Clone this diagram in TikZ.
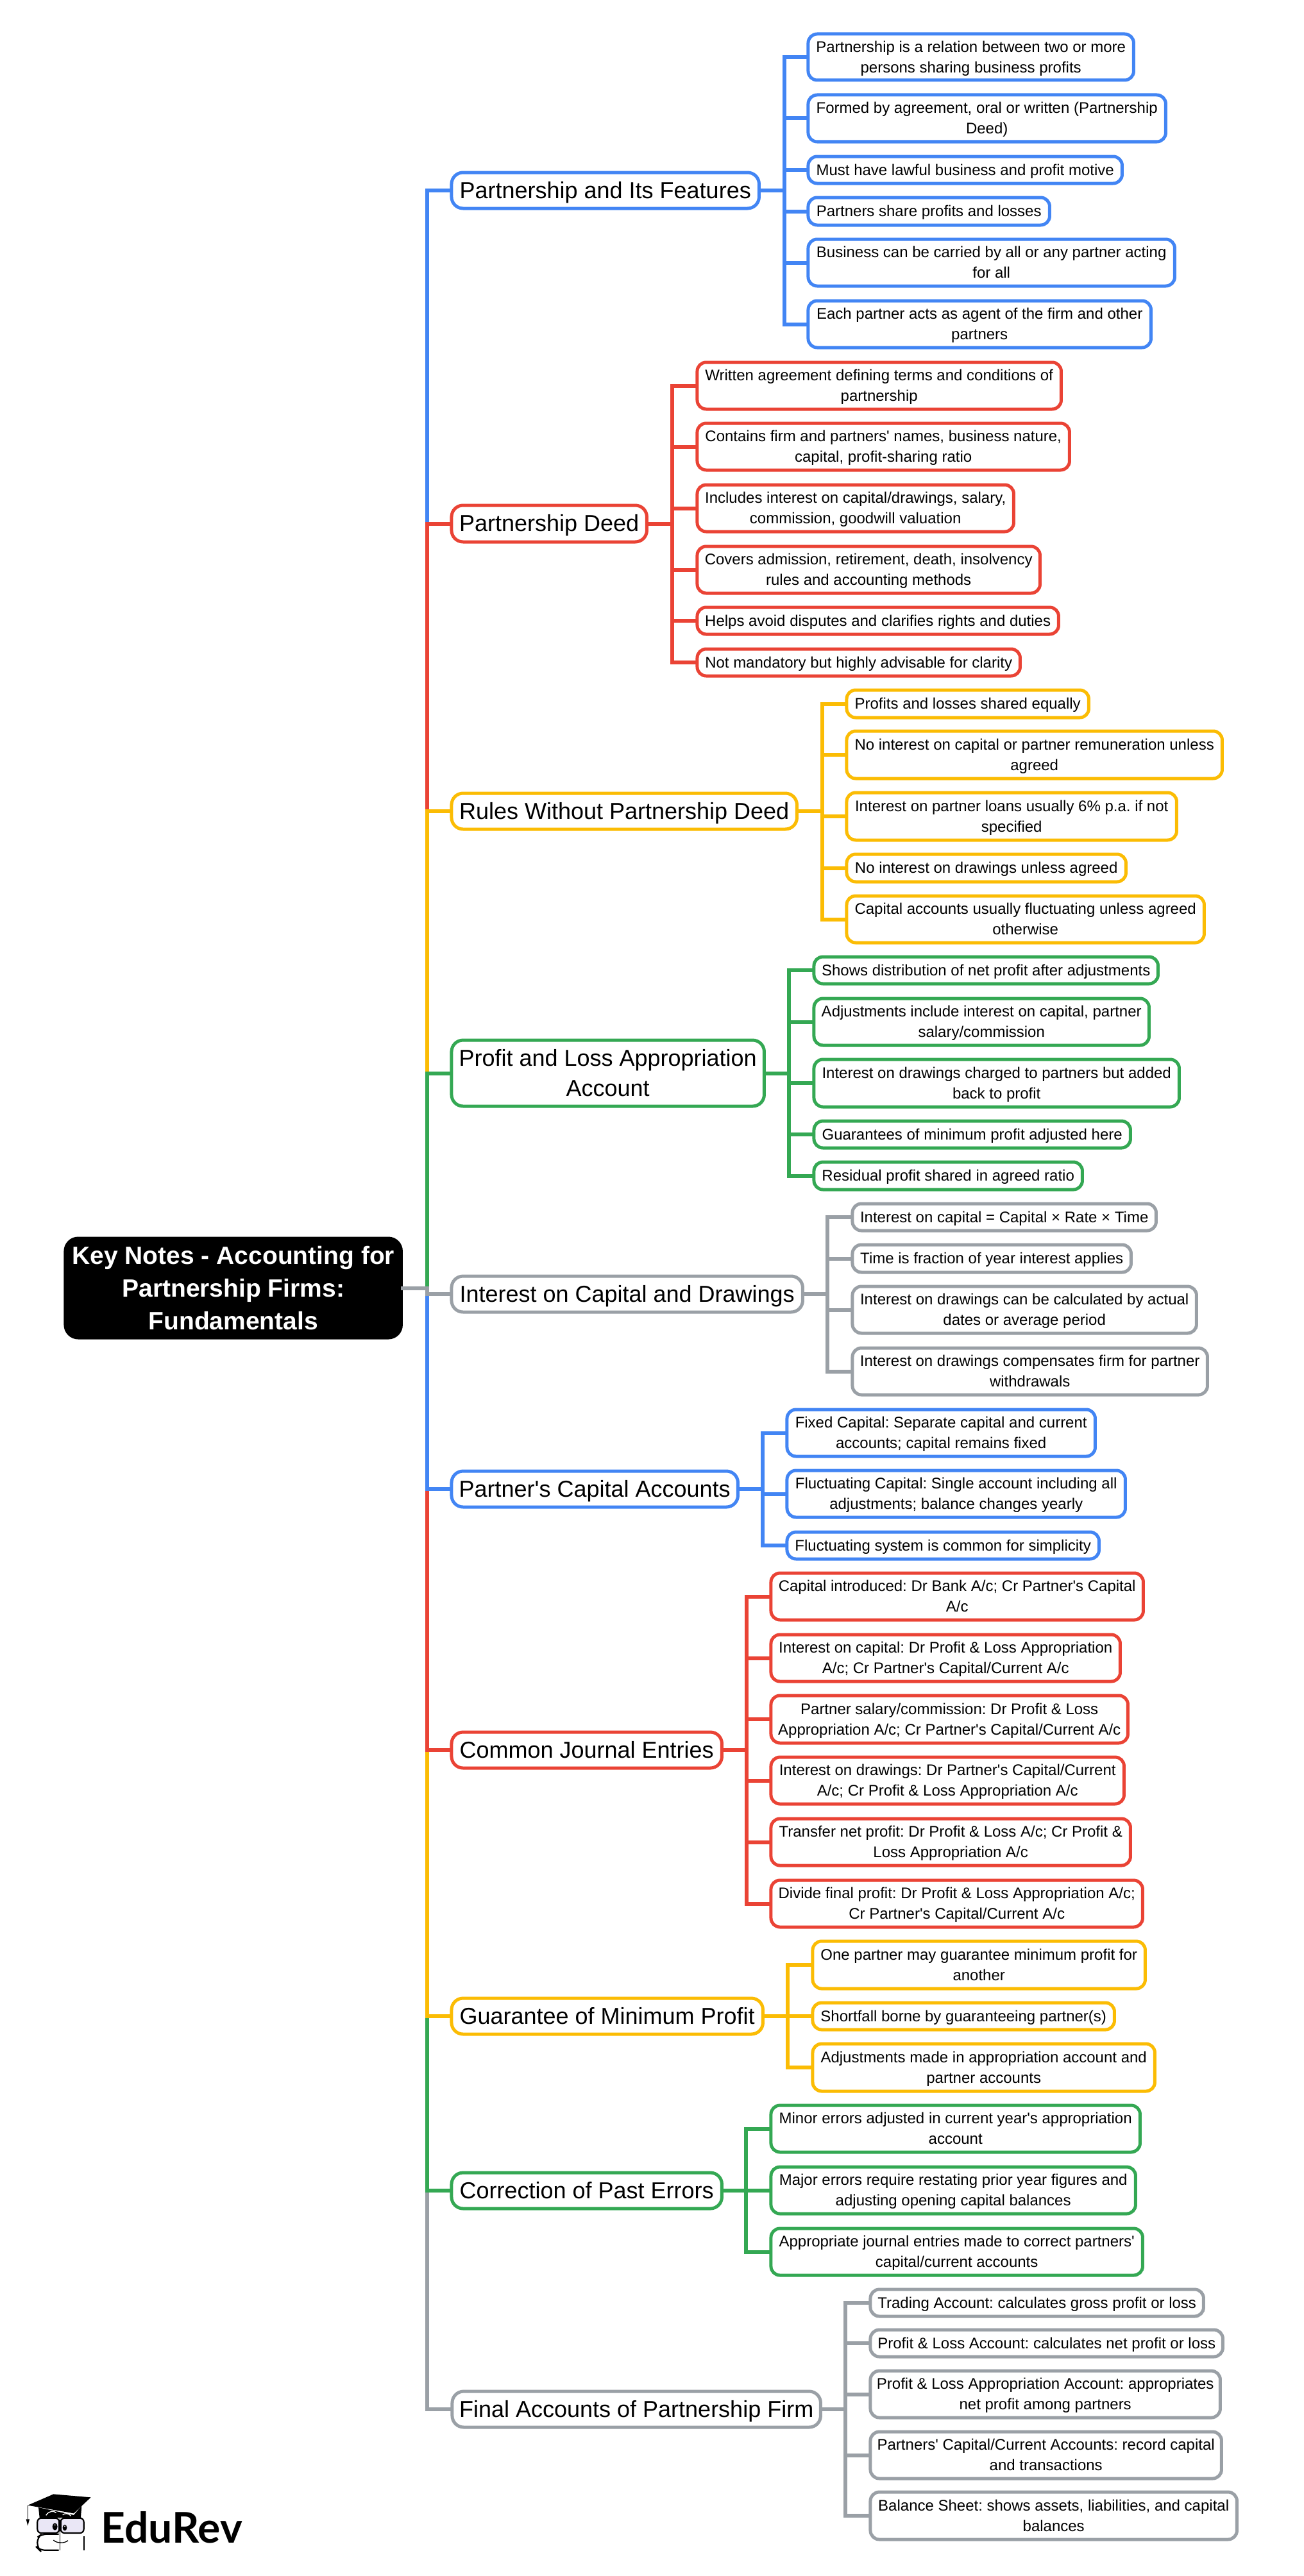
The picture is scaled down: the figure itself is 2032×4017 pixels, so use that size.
\documentclass[tikz,border=0pt]{standalone}
\usepackage{fontspec}
\setmainfont{Liberation Sans}
\newfontfamily\plainsans{Liberation Sans}
\newfontfamily\logofont{Lato}
\frenchspacing
\definecolor{gblue}{HTML}{4285F4}
\definecolor{gred}{HTML}{EA4335}
\definecolor{gyellow}{HTML}{FBBC04}
\definecolor{ggreen}{HTML}{34A853}
\definecolor{ggray}{HTML}{9AA0A6}
\tikzset{
  boxbase/.style={draw,line width=5pt,inner sep=0pt,outer sep=0pt,align=center,text=black},
  leaf/.style={boxbase,rounded corners=14pt,font=\plainsans\fontsize{24}{31.2}\selectfont},
  branch/.style={boxbase,rounded corners=18pt,font=\plainsans\fontsize{36}{46.8}\selectfont},
  rootbox/.style={draw=black,fill=black,line width=5pt,inner sep=0pt,outer sep=0pt,align=center,text=white,
     rounded corners=20pt,font=\plainsans\fontsize{39}{51}\selectfont\bfseries},
  conn/.style={line width=6pt},
}
\newcommand{\linestrut}{\rule[-0.3035em]{0pt}{1.3em}}
\newcommand{\putbox}[7]{%
  \pgfmathsetmacro\bw{#4-#3-4.5}\pgfmathsetmacro\bh{#6-#5-4}%
  \pgfmathsetmacro\cx{(#3+#4)/2-0.3}\pgfmathsetmacro\cy{(#5+#6)/2}%
  \node[#1,minimum width=\bw pt,minimum height=\bh pt] (#2) at (\cx,\cy) {\linestrut #7\linestrut};}
\newcommand{\hub}[4]{%
  \coordinate (bus#2) at (#3,0);
  \foreach \c in {#4}{\draw[conn,#1] (b#2.east) -- (bus#2 |- b#2.east) |- (\c.west);}}
\begin{document}
\begin{tikzpicture}[x=1pt,y=-1pt]
\useasboundingbox (0,0) rectangle (2032,4017);
\fill[white] (0,0) rectangle (2032,4017);
\coordinate (trunk) at (666,0);
% root
\putbox{rootbox}{root}{100}{628}{1929}{2088}{Key Notes - Accounting for\\Partnership Firms:\\Fundamentals}
% branch 1
\putbox{branch,draw=gblue}{b1}{702}{1186}{267}{327}{Partnership and Its Features}
\putbox{leaf,draw=gblue}{l1a}{1258}{1770}{51}{127}{Partnership is a relation between two or more\\persons sharing business profits}
\putbox{leaf,draw=gblue}{l1b}{1258}{1820}{146}{223}{Formed by agreement, oral or written (Partnership\\Deed)}
\putbox{leaf,draw=gblue}{l1c}{1258}{1752}{242}{288}{Must have lawful business and profit motive}
\putbox{leaf,draw=gblue}{l1d}{1258}{1639}{306}{353}{Partners share profits and losses}
\putbox{leaf,draw=gblue}{l1e}{1258}{1834}{371}{448}{Business can be carried by all or any partner acting\\for all}
\putbox{leaf,draw=gblue}{l1f}{1258}{1797}{467}{544}{Each partner acts as agent of the firm and other\\partners}
% branch 2
\putbox{branch,draw=gred}{b2}{702}{1011}{786}{847}{Partnership Deed}
\putbox{leaf,draw=gred}{l2a}{1085}{1657}{563}{640}{Written agreement defining terms and conditions of\\partnership}
\putbox{leaf,draw=gred}{l2b}{1085}{1670}{658}{735}{Contains firm and partners' names, business nature,\\capital, profit-sharing ratio}
\putbox{leaf,draw=gred}{l2c}{1085}{1583}{754}{831}{Includes interest on capital/drawings, salary,\\commission, goodwill valuation}
\putbox{leaf,draw=gred}{l2d}{1085}{1624}{850}{927}{Covers admission, retirement, death, insolvency\\rules and accounting methods}
\putbox{leaf,draw=gred}{l2e}{1085}{1653}{945}{991}{Helps avoid disputes and clarifies rights and duties}
\putbox{leaf,draw=gred}{l2f}{1085}{1593}{1010}{1056}{Not mandatory but highly advisable for clarity}
% branch 3
\putbox{branch,draw=gyellow}{b3}{702}{1245}{1235}{1295}{Rules Without Partnership Deed}
\putbox{leaf,draw=gyellow}{l3a}{1318}{1700}{1074}{1121}{Profits and losses shared equally}
\putbox{leaf,draw=gyellow}{l3b}{1318}{1908}{1138}{1216}{No interest on capital or partner remuneration unless\\agreed}
\putbox{leaf,draw=gyellow}{l3c}{1318}{1837}{1234}{1312}{Interest on partner loans usually 6\% p.a. if not\\specified}
\putbox{leaf,draw=gyellow}{l3d}{1318}{1758}{1330}{1377}{No interest on drawings unless agreed}
\putbox{leaf,draw=gyellow}{l3e}{1318}{1880}{1395}{1472}{Capital accounts usually fluctuating unless agreed\\otherwise}
% branch 4
\putbox{branch,draw=ggreen}{b4}{702}{1194}{1620}{1727}{Profit and Loss Appropriation\\Account}
\putbox{leaf,draw=ggreen}{l4a}{1267}{1808}{1490}{1536}{Shows distribution of net profit after adjustments}
\putbox{leaf,draw=ggreen}{l4b}{1267}{1794}{1555}{1632}{Adjustments include interest on capital, partner\\salary/commission}
\putbox{leaf,draw=ggreen}{l4c}{1267}{1841}{1650}{1728}{Interest on drawings charged to partners but added\\back to profit}
\putbox{leaf,draw=ggreen}{l4d}{1267}{1765}{1746}{1792}{Guarantees of minimum profit adjusted here}
\putbox{leaf,draw=ggreen}{l4e}{1267}{1690}{1810}{1857}{Residual profit shared in agreed ratio}
% branch 5
\putbox{branch,draw=ggray}{b5}{702}{1254}{1988}{2048}{Interest on Capital and Drawings}
\putbox{leaf,draw=ggray}{l5a}{1327}{1805}{1875}{1921}{Interest on capital = Capital × Rate × Time}
\putbox{leaf,draw=ggray}{l5b}{1327}{1766}{1939}{1986}{Time is fraction of year interest applies}
\putbox{leaf,draw=ggray}{l5c}{1327}{1868}{2004}{2081}{Interest on drawings can be calculated by actual\\dates or average period}
\putbox{leaf,draw=ggray}{l5d}{1327}{1885}{2100}{2177}{Interest on drawings compensates firm for partner\\withdrawals}
% branch 6
\putbox{branch,draw=gblue}{b6}{702}{1153}{2292}{2352}{Partner's Capital Accounts}
\putbox{leaf,draw=gblue}{l6a}{1225}{1710}{2196}{2273}{Fixed Capital: Separate capital and current\\accounts; capital remains fixed}
\putbox{leaf,draw=gblue}{l6b}{1225}{1757}{2291}{2368}{Fluctuating Capital: Single account including all\\adjustments; balance changes yearly}
\putbox{leaf,draw=gblue}{l6c}{1225}{1716}{2387}{2433}{Fluctuating system is common for simplicity}
% branch 7
\putbox{branch,draw=gred}{b7}{702}{1128}{2699}{2759}{Common Journal Entries}
\putbox{leaf,draw=gred}{l7a}{1200}{1785}{2451}{2528}{Capital introduced: Dr Bank A/c; Cr Partner's Capital\\A/c}
\putbox{leaf,draw=gred}{l7b}{1200}{1749}{2547}{2624}{Interest on capital: Dr Profit \& Loss Appropriation\\A/c; Cr Partner's Capital/Current A/c}
\putbox{leaf,draw=gred}{l7c}{1200}{1761}{2642}{2720}{Partner salary/commission: Dr Profit \& Loss\\Appropriation A/c; Cr Partner's Capital/Current A/c}
\putbox{leaf,draw=gred}{l7d}{1200}{1755}{2738}{2815}{Interest on drawings: Dr Partner's Capital/Current\\A/c; Cr Profit \& Loss Appropriation A/c}
\putbox{leaf,draw=gred}{l7e}{1200}{1765}{2834}{2911}{Transfer net profit: Dr Profit \& Loss A/c; Cr Profit \&\\Loss Appropriation A/c}
\putbox{leaf,draw=gred}{l7f}{1200}{1784}{2930}{3007}{Divide final profit: Dr Profit \& Loss Appropriation A/c;\\Cr Partner's Capital/Current A/c}
% branch 8
\putbox{branch,draw=gyellow}{b8}{702}{1192}{3114}{3174}{Guarantee of Minimum Profit}
\putbox{leaf,draw=gyellow}{l8a}{1265}{1788}{3025}{3103}{One partner may guarantee minimum profit for\\another}
\putbox{leaf,draw=gyellow}{l8b}{1265}{1740}{3121}{3167}{Shortfall borne by guaranteeing partner(s)}
\putbox{leaf,draw=gyellow}{l8c}{1265}{1803}{3185}{3263}{Adjustments made in appropriation account and\\partner accounts}
% branch 9
\putbox{branch,draw=ggreen}{b9}{702}{1128}{3386}{3446}{Correction of Past Errors}
\putbox{leaf,draw=ggreen}{l9a}{1200}{1780}{3281}{3358}{Minor errors adjusted in current year's appropriation\\account}
\putbox{leaf,draw=ggreen}{l9b}{1200}{1773}{3377}{3454}{Major errors require restating prior year figures and\\adjusting opening capital balances}
\putbox{leaf,draw=ggreen}{l9c}{1200}{1784}{3473}{3550}{Appropriate journal entries made to correct partners'\\capital/current accounts}
% branch 10
\putbox{branch,draw=ggray}{b10}{703}{1282}{3727}{3787}{Final Accounts of Partnership Firm}
\putbox{leaf,draw=ggray}{l10a}{1355}{1879}{3568}{3614}{Trading Account: calculates gross profit or loss}
\putbox{leaf,draw=ggray}{l10b}{1355}{1909}{3631}{3677}{Profit \& Loss Account: calculates net profit or loss}
\putbox{leaf,draw=ggray}{l10c}{1355}{1905}{3695}{3772}{Profit \& Loss Appropriation Account: appropriates\\net profit among partners}
\putbox{leaf,draw=ggray}{l10d}{1355}{1907}{3790}{3867}{Partners' Capital/Current Accounts: record capital\\and transactions}
\putbox{leaf,draw=ggray}{l10e}{1355}{1931}{3884}{3962}{Balance Sheet: shows assets, liabilities, and capital\\balances}
% sub connectors
\hub{gblue}{1}{1222.5}{l1a,l1b,l1c,l1d,l1e,l1f}
\hub{gred}{2}{1048}{l2a,l2b,l2c,l2d,l2e,l2f}
\hub{gyellow}{3}{1282}{l3a,l3b,l3c,l3d,l3e}
\hub{ggreen}{4}{1230}{l4a,l4b,l4c,l4d,l4e}
\hub{ggray}{5}{1290}{l5a,l5b,l5c,l5d}
\hub{gblue}{6}{1189}{l6a,l6b,l6c}
\hub{gred}{7}{1164}{l7a,l7b,l7c,l7d,l7e,l7f}
\hub{gyellow}{8}{1228}{l8a,l8b,l8c}
\hub{ggreen}{9}{1163}{l9a,l9b,l9c}
\hub{ggray}{10}{1318}{l10a,l10b,l10c,l10d,l10e}
% trunk connectors
\foreach \b/\col in {b10/ggray,b9/ggreen,b8/gyellow,b7/gred,b6/gblue,b1/gblue,b2/gred,b3/gyellow,b4/ggreen,b5/ggray}
  {\draw[conn,\col] (root.east) -- (trunk |- root.east) |- (\b.west);}
% logo (drawn shapes, 3 units = 1 px)
\begin{scope}[shift={(20,3860)},x=0.3333pt,y=-0.3333pt]
  \fill[black] (70,140) -- (190,88) -- (365,103) -- (285,178) -- cycle;
  \fill[black] (120,150) -- (285,186) -- (322,142) -- (318,198) -- (125,198) -- cycle;
  \draw[white,line width=1.3pt] (155,187) .. controls (170,165) and (190,165) .. (203,175);
  \draw[white,line width=1.3pt] (233,185) .. controls (245,175) and (262,178) .. (272,190);
  \draw[black,line width=1pt] (70,140) -- (70,205);
  \fill[black] (62,205) -- (78,205) -- (70,236) -- cycle;
  \draw[black,line width=2.2pt,fill=cyan!12!blue!8!white,rounded corners=6pt] (115,200) rectangle (217,270);
  \draw[black,line width=2.2pt,fill=cyan!12!blue!8!white,rounded corners=6pt] (224,200) rectangle (332,270);
  \draw[black,line width=2.2pt,rounded corners=8pt] (215,275) -- (135,275) -- (115,290) -- (115,340) -- (125,350) -- (215,350);
  \draw[black,line width=2.2pt,rounded corners=8pt] (332,285) -- (332,350);
  \draw[black,line width=1.5pt] (221,195) -- (221,352);
  \fill[black] (197,240) ellipse [x radius=12,y radius=17];
  \fill[black] (243,245) ellipse [x radius=10,y radius=14];
  \fill[white] (197,232) circle (3);
  \fill[white] (243,238) circle (3);
  \draw[black,line width=1.3pt] (190,303) .. controls (205,318) and (240,320) .. (258,305);
  \node[font=\logofont\fontsize{66}{66}\selectfont\bfseries,anchor=base west,inner sep=0pt,text=black] (brand) at (412,315) {EduRev};
\end{scope}
\end{tikzpicture}
\end{document}
